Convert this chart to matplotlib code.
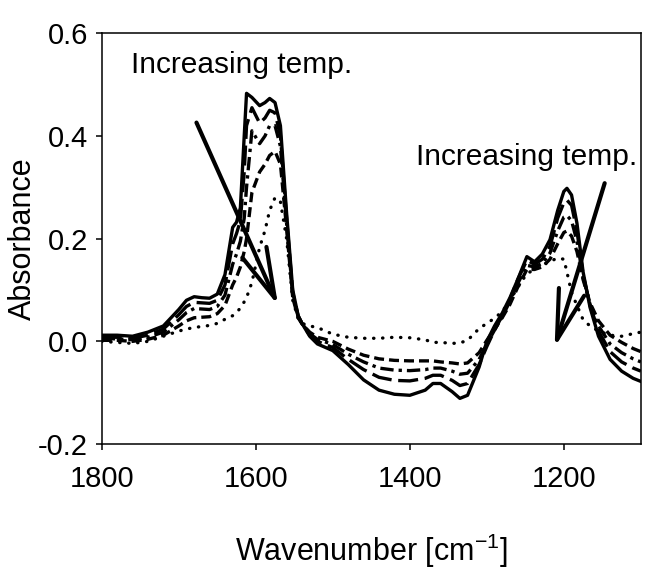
import matplotlib
matplotlib.use("Agg")
import matplotlib.pyplot as plt
from matplotlib.ticker import FormatStrFormatter

plt.rcParams['font.family'] = ['Liberation Sans', 'DejaVu Sans']
plt.rcParams['mathtext.default'] = 'regular'

# ========================== DATA ==========================
wavenumber = [1800, 1780, 1760, 1740, 1720, 1700, 1690, 1680, 1670, 1660,
              1650, 1640, 1630, 1625, 1620, 1615, 1612, 1605, 1595, 1588,
              1582, 1575, 1568, 1560, 1552, 1545, 1540, 1530, 1520, 1500,
              1480, 1460, 1440, 1420, 1400, 1380, 1370, 1360, 1345, 1335,
              1325, 1310, 1300, 1290, 1280, 1270, 1260, 1248, 1238, 1228,
              1218, 1208, 1200, 1196, 1190, 1183, 1175, 1166, 1155, 1140,
              1125, 1110, 1100]

# lowest temperature (solid)
abs_t1 = [0.012, 0.012, 0.010, 0.018, 0.030, 0.062, 0.080, 0.087, 0.085, 0.084,
          0.092, 0.130, 0.222, 0.232, 0.260, 0.400, 0.483, 0.475, 0.459, 0.465,
          0.473, 0.465, 0.420, 0.250, 0.100, 0.050, 0.035, 0.010, -0.005, -0.018,
          -0.045, -0.075, -0.095, -0.103, -0.105, -0.095, -0.082, -0.082, -0.098, -0.111,
          -0.105, -0.050, 0.000, 0.030, 0.055, 0.085, 0.120, 0.165, 0.155, 0.170,
          0.198, 0.255, 0.292, 0.298, 0.285, 0.230, 0.135, 0.066, 0.010, -0.035,
          -0.058, -0.072, -0.078]

abs_t2 = [0.008, 0.008, 0.006, 0.012, 0.024, 0.052, 0.068, 0.076, 0.075, 0.074,
          0.080, 0.110, 0.190, 0.210, 0.235, 0.330, 0.420, 0.455, 0.425, 0.435,
          0.450, 0.445, 0.400, 0.240, 0.095, 0.050, 0.035, 0.012, 0.000, -0.012,
          -0.035, -0.055, -0.070, -0.076, -0.077, -0.072, -0.066, -0.066, -0.076, -0.086,
          -0.082, -0.045, -0.010, 0.022, 0.050, 0.082, 0.120, 0.158, 0.150, 0.160,
          0.185, 0.240, 0.270, 0.275, 0.265, 0.215, 0.130, 0.070, 0.020, -0.020,
          -0.040, -0.052, -0.058]

abs_t3 = [0.005, 0.005, 0.003, 0.008, 0.018, 0.042, 0.056, 0.064, 0.063, 0.062,
          0.068, 0.090, 0.150, 0.170, 0.195, 0.240, 0.300, 0.410, 0.385, 0.400,
          0.420, 0.420, 0.380, 0.230, 0.090, 0.048, 0.035, 0.015, 0.004, -0.006,
          -0.025, -0.040, -0.052, -0.056, -0.057, -0.055, -0.052, -0.052, -0.058, -0.064,
          -0.062, -0.035, -0.005, 0.022, 0.048, 0.078, 0.112, 0.148, 0.145, 0.152,
          0.172, 0.215, 0.242, 0.245, 0.235, 0.195, 0.125, 0.072, 0.030, -0.005,
          -0.022, -0.034, -0.040]

abs_t4 = [0.002, 0.002, 0.000, 0.004, 0.012, 0.030, 0.040, 0.046, 0.047, 0.048,
          0.054, 0.070, 0.110, 0.125, 0.145, 0.175, 0.200, 0.290, 0.330, 0.345,
          0.362, 0.370, 0.345, 0.220, 0.085, 0.046, 0.034, 0.018, 0.008, 0.000,
          -0.015, -0.027, -0.034, -0.037, -0.038, -0.038, -0.038, -0.040, -0.042, -0.044,
          -0.042, -0.022, 0.002, 0.024, 0.046, 0.072, 0.105, 0.140, 0.140, 0.145,
          0.160, 0.190, 0.212, 0.215, 0.205, 0.175, 0.120, 0.075, 0.040, 0.012,
          -0.002, -0.014, -0.020]

# highest temperature (dotted)
abs_t5 = [0.000, -0.002, -0.004, 0.000, 0.010, 0.020, 0.024, 0.027, 0.029, 0.031,
          0.035, 0.043, 0.050, 0.056, 0.065, 0.077, 0.085, 0.115, 0.183, 0.216,
          0.255, 0.280, 0.272, 0.200, 0.080, 0.045, 0.035, 0.030, 0.027, 0.014,
          0.008, 0.006, 0.006, 0.008, 0.007, 0.003, -0.002, -0.002, -0.004, -0.003,
          0.002, 0.025, 0.035, 0.045, 0.058, 0.080, 0.105, 0.132, 0.140, 0.148,
          0.156, 0.162, 0.160, 0.135, 0.095, 0.070, 0.042, 0.030, 0.020, 0.012,
          0.010, 0.015, 0.018]

series = [abs_t1, abs_t2, abs_t3, abs_t4, abs_t5]
styles = ['-', (0, (6, 2)), (0, (4, 1.5, 1, 1.5)), (0, (3, 1.5)), (0, (0.1, 2.6))]

x_ticks = [1800, 1600, 1400, 1200]
y_ticks = [-0.2, 0.0, 0.2, 0.4, 0.6]

# ========================== PLOT ==========================
fig = plt.figure(figsize=(6.48, 5.73), dpi=100)
ax = fig.add_axes([0.157, 0.225, 0.832, 0.717])

for y, ls in zip(series, styles):
    ax.plot(wavenumber, y, color='black', linestyle=ls, linewidth=2.4,
            dash_capstyle='round' if ls == styles[-1] else 'butt',
            solid_joinstyle='round')

ax.set_xlim(1800, 1100)
ax.set_ylim(-0.2, 0.6)
ax.set_xticks(x_ticks)
ax.set_yticks(y_ticks)
ax.yaxis.set_major_formatter(FormatStrFormatter('%.1f'))
ax.tick_params(direction='out', length=4, width=1.1, labelsize=21)
ax.tick_params(axis='x', pad=11)
ax.tick_params(axis='y', pad=6)
for s in ax.spines.values():
    s.set_linewidth(1.1)

ax.set_xlabel('Wavenumber [cm$^{-1}$]', fontsize=22, labelpad=28)
ax.set_ylabel('Absorbance', fontsize=22, labelpad=0)

# annotations
ax.text(1762, 0.522, 'Increasing temp.', fontsize=21.5, ha='left', va='baseline')
ax.text(1105, 0.343, 'Increasing temp.', fontsize=21.5, ha='right', va='baseline')

arrow = dict(arrowstyle='->,head_length=3.6,head_width=0.95', lw=3,
             color='black', mutation_scale=10, shrinkA=0, shrinkB=0)
ax.annotate('', xy=(1571, 0.070), xytext=(1677, 0.426), arrowprops=arrow)
ax.annotate('', xy=(1212, -0.012), xytext=(1147, 0.308), arrowprops=arrow)

fig.savefig('out.png', dpi=100)
